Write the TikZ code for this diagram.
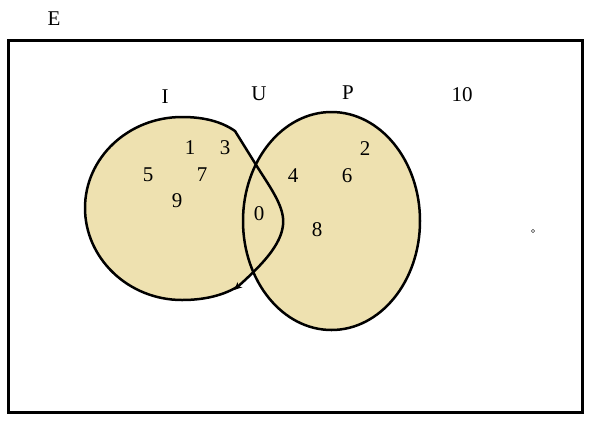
\documentclass[tikz,border=0pt]{standalone}
\usepackage{fontspec}
\setmainfont{Liberation Serif}
\usepackage{tikz}
\usetikzlibrary{arrows.meta}

\definecolor{setfill}{RGB}{238,225,176}

\begin{document}
\begin{tikzpicture}[x=1pt,y=-1pt,
    setline/.style={line width=2.5pt,black},
    elem/.style={font=\fontsize{21}{25}\selectfont,inner sep=0pt}]
    \useasboundingbox (0,0) rectangle (597,432);
    % Universe E
    \draw[line width=3pt] (8,40) rectangle (582,412);
    \node[elem] (labE) at (54,19) {E};
    % fills first
    \fill[setfill] (237,287) .. controls (220,297) and (200,300) .. (182,300)
        .. controls (128,300) and (85,258) .. (85,208)
        .. controls (85,158) and (128,117) .. (182,117)
        .. controls (205,117) and (222,122) .. (235,131)
        -- (258,168) .. controls (272,190) and (285,208) .. (283,225)
        .. controls (281,245) and (260,265) .. cycle;
    \fill[setfill] (331.5,221) ellipse [x radius=88.5,y radius=109];
    % set I (irregular outline)
    \draw[setline,-{Stealth[length=8pt,width=7pt]}] (237,287)
        .. controls (220,297) and (200,300) .. (182,300)
        .. controls (128,300) and (85,258) .. (85,208)
        .. controls (85,158) and (128,117) .. (182,117)
        .. controls (205,117) and (222,122) .. (235,131)
        -- (258,168) .. controls (272,190) and (285,208) .. (283,225)
        .. controls (281,245) and (262,265) .. (234,290);
    % set P
    \draw[setline] (331.5,221) ellipse [x radius=88.5,y radius=109];
    % set names
    \node[elem] (labI) at (165,97) {I};
    \node[elem] (labU) at (259,94) {U};
    \node[elem] (labP) at (348,93) {P};
    \node[elem] (n10) at (462,95) {10};
    % elements
    \node[elem] (n1) at (190,148) {1};
    \node[elem] (n3) at (225,148) {3};
    \node[elem] (n5) at (148,175) {5};
    \node[elem] (n7) at (202,175) {7};
    \node[elem] (n9) at (177,201) {9};
    \node[elem] (n0) at (259,214) {0};
    \node[elem] (n4) at (293,176) {4};
    \node[elem] (n6) at (347,176) {6};
    \node[elem] (n2) at (365,149) {2};
    \node[elem] (n8) at (317,230) {8};
    % small mark
    \draw[line width=0.4pt] (533,231) circle (1.6);
\end{tikzpicture}
\end{document}
